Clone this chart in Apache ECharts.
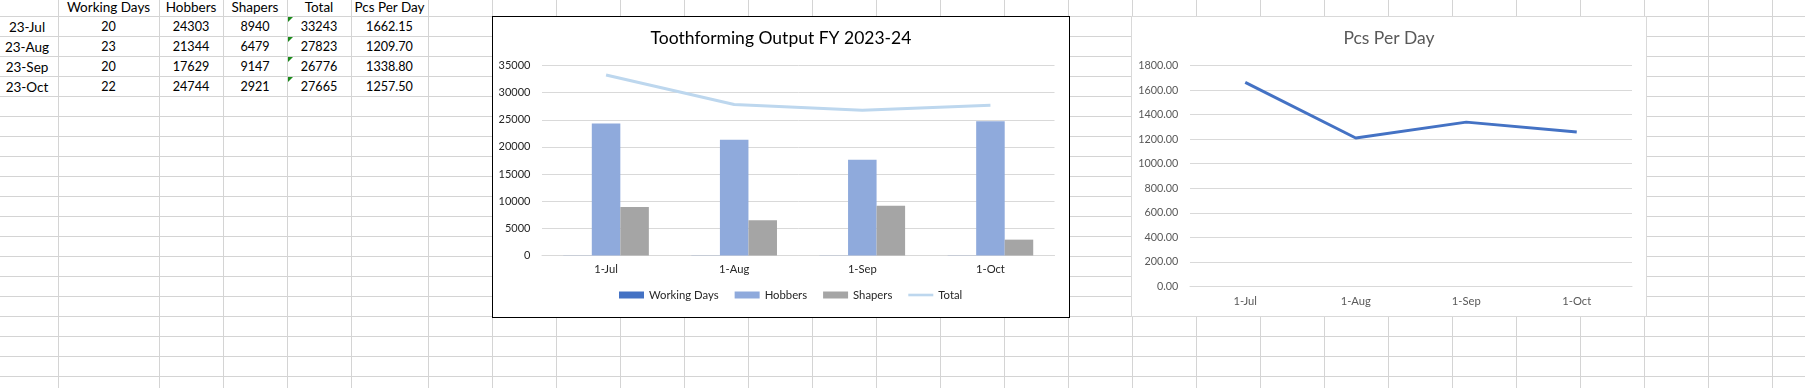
<!DOCTYPE html>
<html><head><meta charset="utf-8">
<script src="https://cdn.jsdelivr.net/npm/echarts@6/dist/echarts.min.js"></script>
<style>
html,body{margin:0;padding:0;width:1805px;height:388px;overflow:hidden;background:#fff;}
#sheet{position:absolute;left:0;top:0;width:1805px;height:388px;}
.vl{position:absolute;top:0;width:1px;height:388px;background:#d4d4d4;}
.hl{position:absolute;left:0;height:1px;width:1805px;background:#d4d4d4;}
.cell{position:absolute;height:20px;line-height:20px;text-align:center;font-family:Lato,"Liberation Sans",sans-serif;font-size:13.5px;color:#000;white-space:nowrap;}
.num{font-size:12.6px;}
.flag{position:absolute;width:0;height:0;border-top:5px solid #1a8a1a;border-right:5px solid transparent;}
#c1{position:absolute;left:492px;top:16px;width:578px;height:302px;background:#fff;}
#c1b{position:absolute;left:492px;top:16px;width:576px;height:300px;border:1px solid #000;pointer-events:none;}
#c2{position:absolute;left:1131px;top:16px;width:516px;height:301px;background:#fff;}
#c2b{position:absolute;left:1131px;top:16px;width:514px;height:299px;border:1px solid #d9d9d9;pointer-events:none;}
</style>
</head>
<body>
<div id="sheet"></div>
<div id="c1"></div><div id="c1b"></div>
<div id="c2"></div><div id="c2b"></div>
<script>
// ---- data ----
const sheetMonths = ['23-Jul', '23-Aug', '23-Sep', '23-Oct'];
const categories = ['1-Jul', '1-Aug', '1-Sep', '1-Oct'];
const headers = ['Working Days', 'Hobbers', 'Shapers', 'Total', 'Pcs Per Day'];
const workingDays = [20, 23, 20, 22];
const hobbers = [24303, 21344, 17629, 24744];
const shapers = [8940, 6479, 9147, 2921];
const total = [33243, 27823, 26776, 27665];
const pcsPerDay = [1662.15, 1209.70, 1338.80, 1257.50];
const title1 = 'Toothforming Output FY 2023-24';
const title2 = 'Pcs Per Day';

// ---- spreadsheet background ----
const sheet = document.getElementById('sheet');
const colEdges = [58, 159, 223, 287, 351, 428];
for (let x = 492; x < 1805; x += 64) colEdges.push(x);
colEdges.forEach(x => { const d = document.createElement('div'); d.className = 'vl'; d.style.left = x + 'px'; sheet.appendChild(d); });
for (let y = 16; y < 388; y += 20) { const d = document.createElement('div'); d.className = 'hl'; d.style.top = y + 'px'; sheet.appendChild(d); }

const cellBounds = [-4, 58, 159, 223, 287, 351, 428];
function addCell(col, row, text, isNum) {
  const d = document.createElement('div');
  d.className = isNum ? 'cell num' : 'cell';
  d.style.left = cellBounds[col] + 'px';
  d.style.width = (cellBounds[col + 1] - cellBounds[col]) + 'px';
  d.style.top = (-4 + 20 * row + 1) + 'px';
  d.textContent = text;
  sheet.appendChild(d);
}
headers.forEach((h, i) => addCell(i + 1, 0, h, false));
sheetMonths.forEach((m, r) => {
  addCell(0, r + 1, m, false);
  addCell(1, r + 1, String(workingDays[r]), true);
  addCell(2, r + 1, String(hobbers[r]), true);
  addCell(3, r + 1, String(shapers[r]), true);
  addCell(4, r + 1, String(total[r]), true);
  addCell(5, r + 1, pcsPerDay[r].toFixed(2), true);
  const f = document.createElement('div');
  f.className = 'flag';
  f.style.left = (cellBounds[4] + 1) + 'px';
  f.style.top = (16 + 20 * r + 1) + 'px';
  sheet.appendChild(f);
});

// ---- charts ----
const FONT = 'Lato, "Liberation Sans", sans-serif';
const c1 = echarts.init(document.getElementById('c1'), null, { renderer: 'canvas' });
c1.setOption({
  animation: false,
  backgroundColor: '#fff',
  title: { text: title1, left: 'center', top: 12.5, padding: 0,
    textStyle: { fontFamily: FONT, fontSize: 17.5, fontWeight: 'normal', color: '#000', lineHeight: 20 } },
  grid: { left: 50, top: 49.5, width: 512.5, height: 190, outerBoundsMode: 'none', containLabel: false },
  legend: {
    top: 273.5, left: 127, padding: 0, itemWidth: 25, itemHeight: 7, itemGap: 16,
    textStyle: { fontFamily: FONT, fontSize: 11.3, color: '#262626' },
    data: [
      { name: 'Working Days', icon: 'rect' },
      { name: 'Hobbers', icon: 'rect' },
      { name: 'Shapers', icon: 'rect' },
      { name: 'Total', icon: 'path://M0,0L0,0M0,2.2L25,2.2L25,4.8L0,4.8ZM0,7L0,7', itemStyle: { borderWidth: 0 } }
    ]
  },
  xAxis: {
    type: 'category', data: categories,
    axisLine: { lineStyle: { color: '#d9d9d9' } },
    axisTick: { length: 3, lineStyle: { color: '#d9d9d9' } },
    axisLabel: { margin: 8.5, color: '#262626', fontFamily: FONT, fontSize: 11.2 }
  },
  yAxis: {
    type: 'value', min: 0, max: 35000, interval: 5000,
    axisLine: { show: false }, axisTick: { show: false },
    splitLine: { lineStyle: { color: '#d9d9d9' } },
    axisLabel: { margin: 11.5, color: '#262626', fontFamily: FONT, fontSize: 11, formatter: v => String(v) }
  },
  series: [
    { name: 'Working Days', type: 'bar', data: workingDays, itemStyle: { color: '#4472C4' }, barGap: '0%', barCategoryGap: '33.2%' },
    { name: 'Hobbers', type: 'bar', data: hobbers, itemStyle: { color: '#8FAADC' } },
    { name: 'Shapers', type: 'bar', data: shapers, itemStyle: { color: '#A5A5A5' } },
    { name: 'Total', type: 'line', data: total, symbol: 'none', z: 5,
      lineStyle: { color: '#BDD7EE', width: 3 }, itemStyle: { color: '#BDD7EE' } }
  ]
});

const c2 = echarts.init(document.getElementById('c2'), null, { renderer: 'canvas' });
c2.setOption({
  animation: false,
  backgroundColor: '#fff',
  title: { text: title2, left: 'center', top: 12.5, padding: 0,
    textStyle: { fontFamily: FONT, fontSize: 17.5, fontWeight: 'normal', color: '#595959', lineHeight: 20 } },
  grid: { left: 59, top: 49.5, width: 442, height: 221, outerBoundsMode: 'none', containLabel: false },
  xAxis: {
    type: 'category', data: categories,
    axisLine: { lineStyle: { color: '#d9d9d9' } },
    axisTick: { length: 3, lineStyle: { color: '#d9d9d9' } },
    axisLabel: { margin: 9, color: '#595959', fontFamily: FONT, fontSize: 11.2 }
  },
  yAxis: {
    type: 'value', min: 0, max: 1800, interval: 200,
    axisLine: { show: false }, axisTick: { show: false },
    splitLine: { lineStyle: { color: '#d9d9d9' } },
    axisLabel: { margin: 11.7, color: '#595959', fontFamily: FONT, fontSize: 10.8, formatter: v => v.toFixed(2) }
  },
  series: [
    { name: 'Pcs Per Day', type: 'line', data: pcsPerDay, symbol: 'none',
      lineStyle: { color: '#4472C4', width: 3 }, itemStyle: { color: '#4472C4' } }
  ]
});
</script>
</body></html>
